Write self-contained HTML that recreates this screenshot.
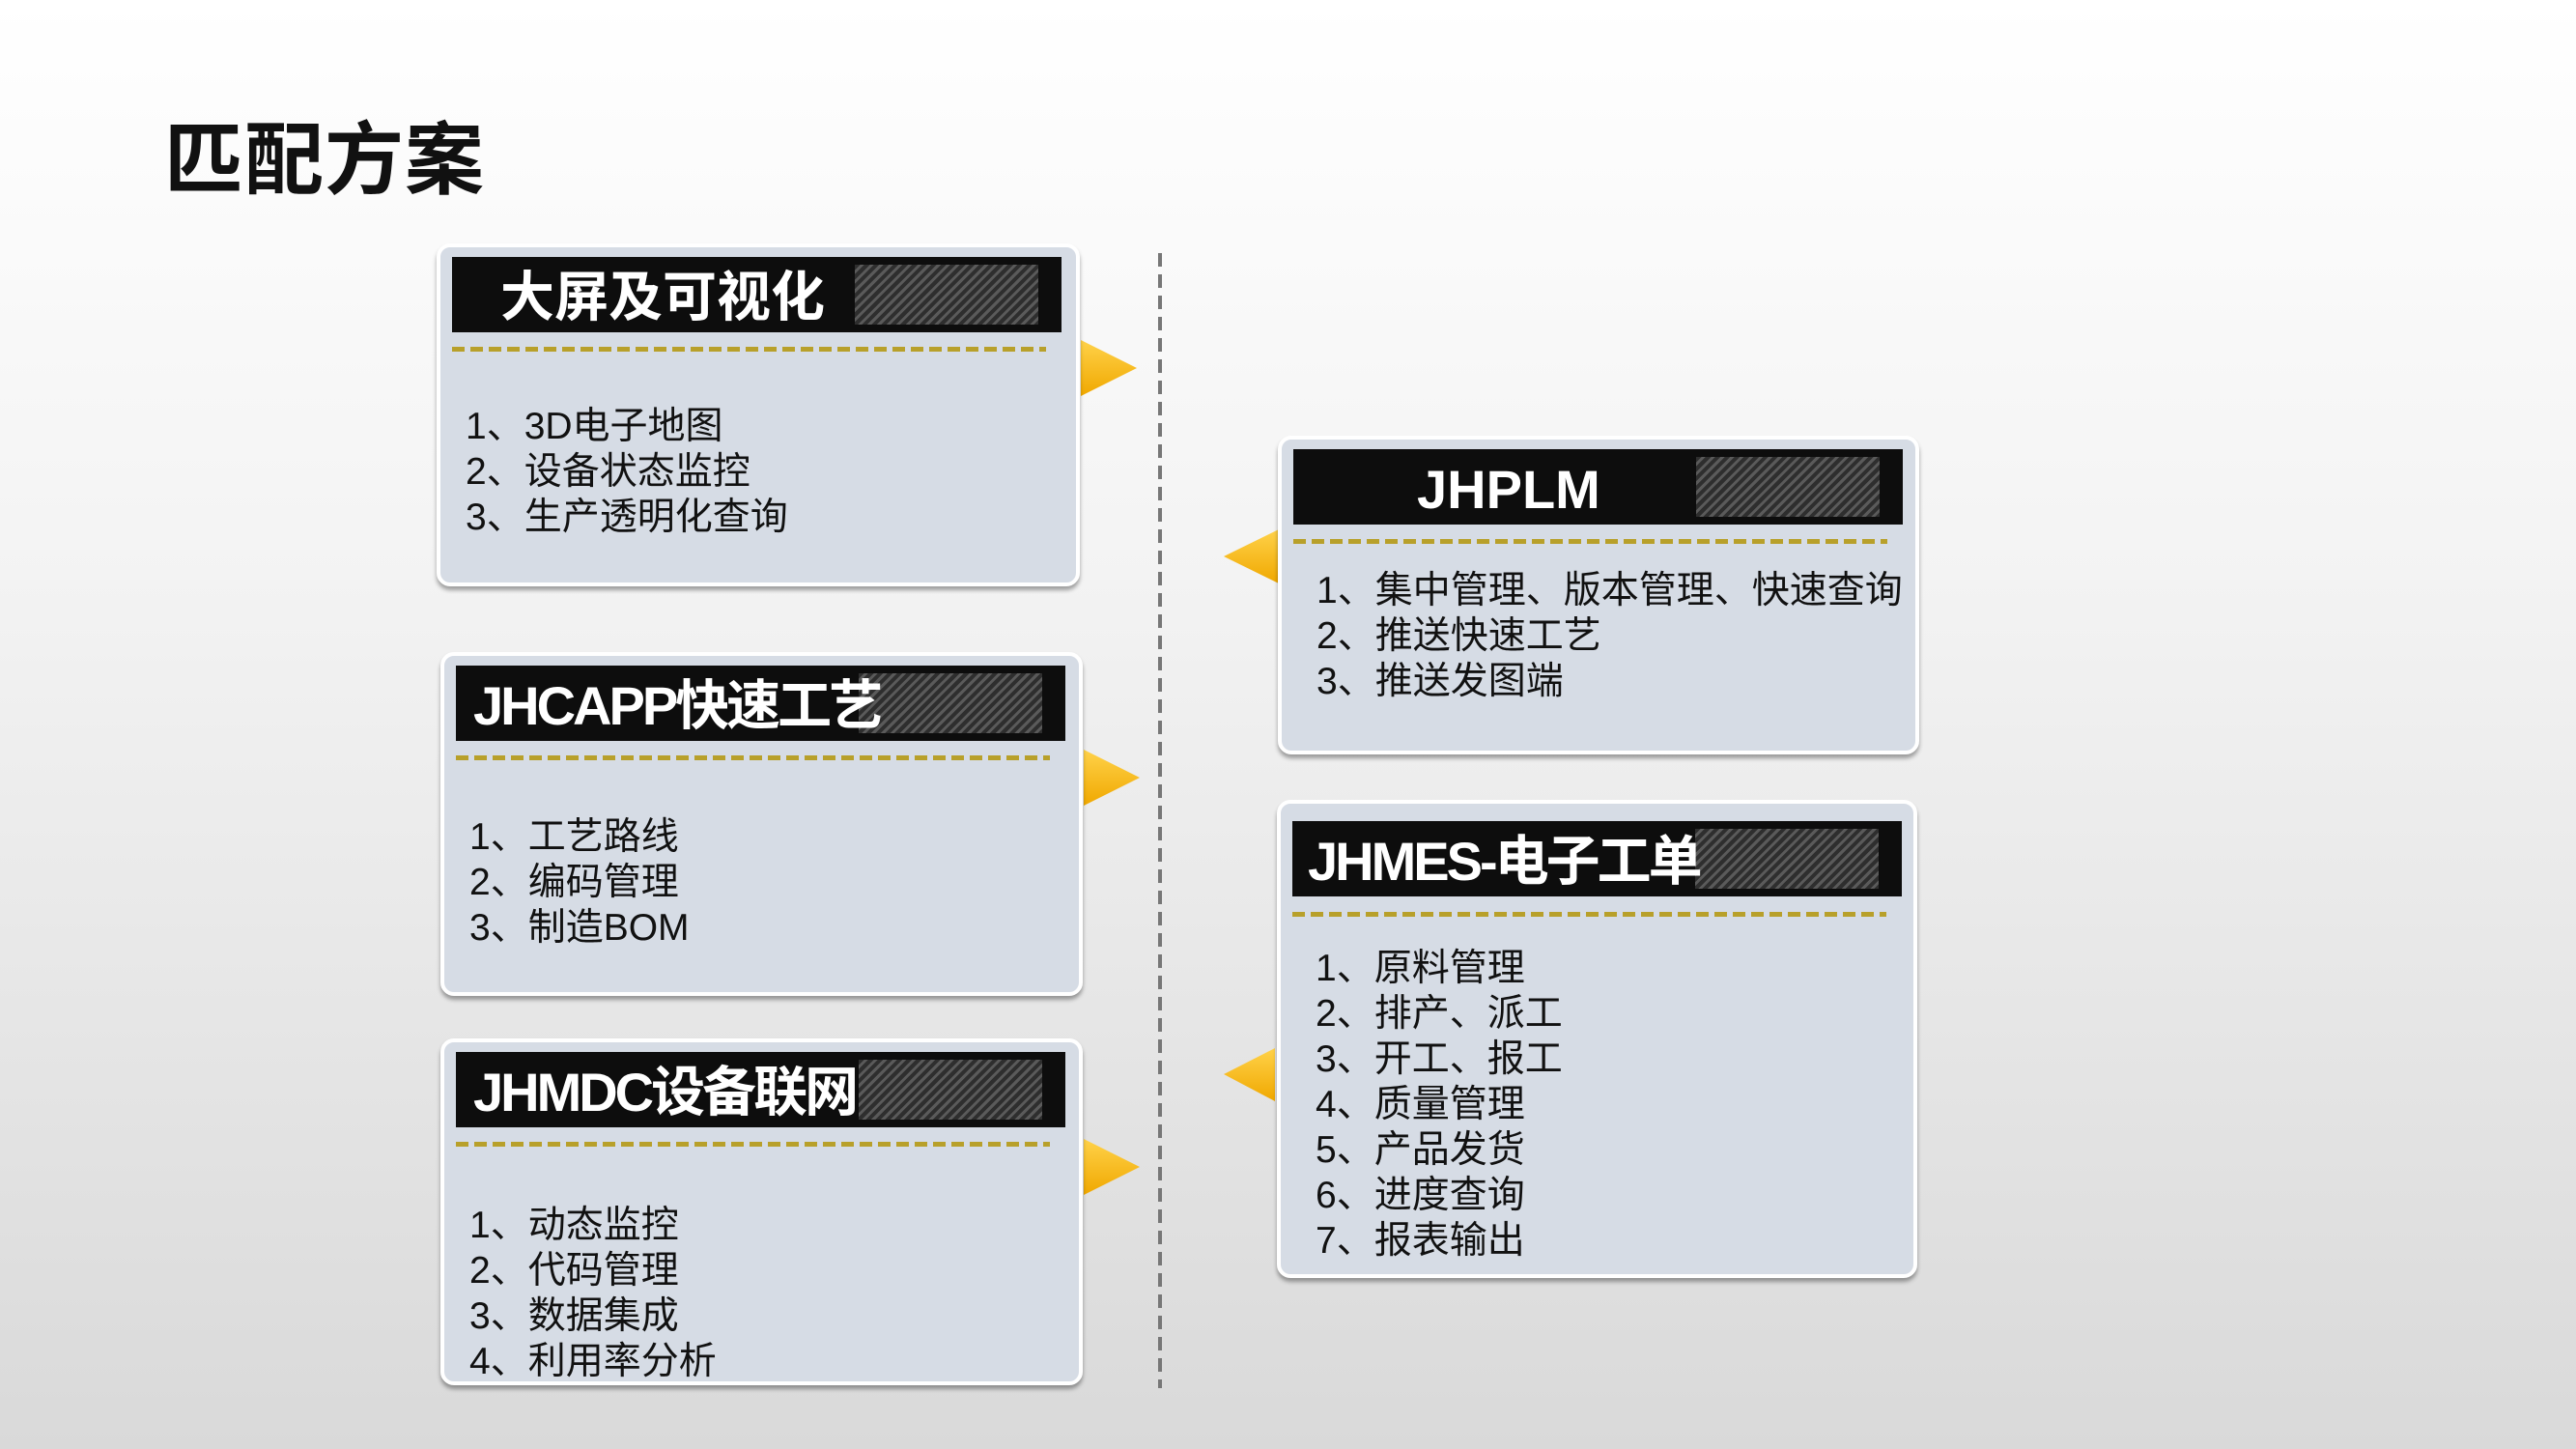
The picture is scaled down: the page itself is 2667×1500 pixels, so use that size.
<!DOCTYPE html>
<html><head><meta charset="utf-8"><style>
*{margin:0;padding:0;box-sizing:border-box}
body{width:2667px;height:1500px;position:relative;overflow:hidden;background:linear-gradient(#ffffff 0%,#f3f3f3 40%,#d9d9d9 100%);font-family:"Liberation Sans","Noto Sans CJK SC",sans-serif}
.t{position:absolute;left:170px;top:126px;font-size:82px;font-weight:bold;color:#111;letter-spacing:1px;line-height:1}
.box{position:absolute;background:#d6dce5;border:4px solid #fff;border-radius:14px;box-shadow:0 4px 4px rgba(0,0,0,.35)}
.hd{position:absolute;left:12px;top:10px;width:631px;height:78px;background:#0d0d0d;color:#fff;font-weight:bold;font-size:56px;line-height:84px;white-space:nowrap}
.hd span{position:relative;z-index:2}
.hd .n{letter-spacing:-3px}
.hatch{position:absolute;right:24px;top:8px;width:190px;height:62px;background:repeating-linear-gradient(135deg,#2e2e2e 0 4px,#5a5a5a 4px 7px)}
.dash{position:absolute;left:12px;width:615px;height:5px;background:repeating-linear-gradient(90deg,#b8a02a 0 13px,transparent 13px 19px)}
.it{position:absolute;left:26px;font-size:39px;line-height:47px;color:#111;white-space:nowrap}
.r .it{left:36px}
svg{position:absolute;left:0;top:0}
</style></head><body>
<div class="t">匹配方案</div>

<svg width="2667" height="1500">
<defs><linearGradient id="g" x1="0" y1="0" x2="0" y2="1"><stop offset="0" stop-color="#ffd24a"/><stop offset="1" stop-color="#f0a800"/></linearGradient></defs>
<line x1="1201" y1="262" x2="1201" y2="1437" stroke="#777" stroke-width="4" stroke-dasharray="14 8"/>
<polygon points="1119,352 1177,381 1119,410" fill="url(#g)"/>
<polygon points="1122,776 1180,805 1122,834" fill="url(#g)"/>
<polygon points="1122,1179 1180,1208 1122,1237" fill="url(#g)"/>
<polygon points="1324,548 1267,576 1324,604" fill="url(#g)"/>
<polygon points="1320,1085 1267,1112 1320,1140" fill="url(#g)"/>
</svg>

<div class="box" style="left:452px;top:252px;width:666px;height:355px">
 <div class="hd"><span style="margin-left:50px">大屏及可视化</span><div class="hatch"></div></div>
 <div class="dash" style="top:103px"></div>
 <div class="it" style="top:162px">1、3D电子地图<br>2、设备状态监控<br>3、生产透明化查询</div>
</div>

<div class="box" style="left:456px;top:675px;width:665px;height:356px">
 <div class="hd"><span class="n" style="margin-left:18px">JHCAPP快速工艺</span><div class="hatch"></div></div>
 <div class="dash" style="top:103px"></div>
 <div class="it" style="top:164px">1、工艺路线<br>2、编码管理<br>3、制造BOM</div>
</div>

<div class="box" style="left:456px;top:1075px;width:665px;height:359px">
 <div class="hd"><span class="n" style="margin-left:18px">JHMDC设备联网</span><div class="hatch"></div></div>
 <div class="dash" style="top:103px"></div>
 <div class="it" style="top:166px">1、动态监控<br>2、代码管理<br>3、数据集成<br>4、利用率分析</div>
</div>

<div class="box r" style="left:1323px;top:451px;width:664px;height:330px">
 <div class="hd"><span style="margin-left:128px">JHPLM</span><div class="hatch"></div></div>
 <div class="dash" style="top:103px"></div>
 <div class="it" style="top:133px">1、集中管理、版本管理、快速查询<br>2、推送快速工艺<br>3、推送发图端</div>
</div>

<div class="box r" style="left:1322px;top:828px;width:663px;height:495px">
 <div class="hd" style="top:18px"><span class="n" style="margin-left:16px">JHMES-电子工单</span><div class="hatch"></div></div>
 <div class="dash" style="top:112px"></div>
 <div class="it" style="top:147px">1、原料管理<br>2、排产、派工<br>3、开工、报工<br>4、质量管理<br>5、产品发货<br>6、进度查询<br>7、报表输出</div>
</div>
</body></html>
